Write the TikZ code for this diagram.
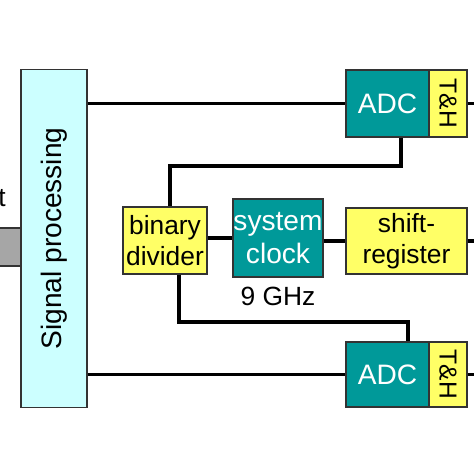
\documentclass[tikz,border=0pt]{standalone}
\usepackage{fontspec}
\setmainfont{Liberation Sans}
\usepackage{xcolor}
\usepackage{tikz}
\usetikzlibrary{positioning}
\definecolor{colorSP}{HTML}{CCFFFF}
\definecolor{colorAD}{HTML}{009999}
\definecolor{colorYL}{HTML}{FFFF66}
\definecolor{colorGR}{HTML}{A6A6A6}

\begin{document}
\begin{tikzpicture}[x=0.02cm, y=-0.02cm,
        blk/.style={draw=black!80, line width=0.6pt, inner sep=0pt, align=center,
            font=\fontsize{15}{18}\selectfont},
        teal/.style={blk, fill=colorAD, text=white, font=\fontsize{16}{18.5}\selectfont},
        yell/.style={blk, fill=colorYL},
        wire/.style={line width=1.8pt}]
        \useasboundingbox (0,0) rectangle (474,474);

        \node[blk, fill=colorGR, minimum width=0.62cm, minimum height=0.76cm] (inp) at (5,247) {};
        \node[anchor=east, inner sep=0pt, font=\fontsize{15}{18}\selectfont] (inlbl) at (6,198) {t};
        \node[blk, fill=colorSP, minimum width=1.32cm, minimum height=6.78cm,
            font=\fontsize{16}{18}\selectfont] (sp) at (54,238.5)
            {\rotatebox{90}{Signal processing}};

        \node[teal, minimum width=1.66cm, minimum height=1.34cm] (adc1) at (387.5,103.5) {ADC};
        \node[yell, minimum width=0.76cm, minimum height=1.34cm] (th1) at (448,103.5)
            {\rotatebox{-90}{\fontsize{14}{16}\selectfont T\&H}};
        \node[yell, minimum width=1.68cm, minimum height=1.34cm] (div) at (165,240.5) {binary\\divider};
        \node[teal, minimum width=1.8cm, minimum height=1.56cm] (clk) at (278,238) {system\\clock};
        \node[font=\fontsize{15}{18}\selectfont] (freq) at (278,296) {9 GHz};
        \node[yell, minimum width=2.42cm, minimum height=1.32cm] (sr) at (406.5,241) {shift-\\register};
        \node[teal, minimum width=1.66cm, minimum height=1.3cm] (adc2) at (387.5,374.5) {ADC};
        \node[yell, minimum width=0.76cm, minimum height=1.3cm] (th2) at (448,374.5)
            {\rotatebox{-90}{\fontsize{14}{16}\selectfont T\&H}};

        \coordinate (out1) at (480,103.5);
        \coordinate (out2) at (480,241);
        \coordinate (out3) at (480,374.5);
        \coordinate (c1) at (401,166);
        \coordinate (c2) at (170,166);
        \coordinate (c3) at (179,322);
        \coordinate (c4) at (408,322);

        \draw[wire] (sp.east |- adc1.west) -- (adc1.west);
        \draw[wire] (th1.east) -- (out1);
        \draw[wire] (adc1.south -| c1) -- (c1) -- (c2) -- (div.north -| c2);
        \draw[wire] (div.east |- clk.west) -- (clk.west);
        \draw[wire] (clk.east |- sr.west) -- (sr.west);
        \draw[wire] (sr.east) -- (out2);
        \draw[wire] (div.south -| c3) -- (c3) -- (c4) -- (adc2.north -| c4);
        \draw[wire] (sp.east |- adc2.west) -- (adc2.west);
        \draw[wire] (th2.east) -- (out3);
    \end{tikzpicture}
\end{document}
